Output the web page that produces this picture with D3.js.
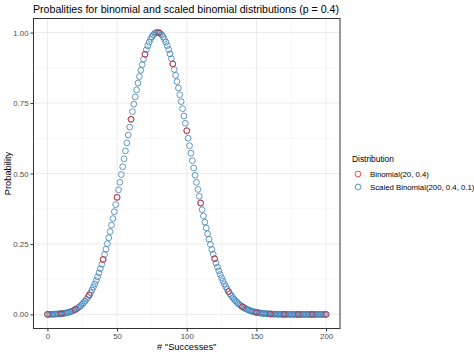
<!DOCTYPE html>
<html><head><meta charset="utf-8">
<script src="https://cdn.jsdelivr.net/npm/d3@7"></script>
<style>body{margin:0;background:#fff}svg{display:block;font-family:"Liberation Sans",Arial,sans-serif}</style>
</head><body><svg id="c" width="474" height="355"></svg>
<script>
const title = "Probalities for binomial and scaled binomial distributions (p = 0.4)";
const seriesNames = ["Binomial(20, 0.4)", "Scaled Binomial(200, 0.4, 0.1)"];
const seriesColors = ["#E41A1C", "#377EB8"];
const xTicks = [0, 50, 100, 150, 200];
const yTicks = [0, 0.25, 0.5, 0.75, 1];
const yTickLabels = ["0.00", "0.25", "0.50", "0.75", "1.00"];
// Binomial(20, 0.4) at successes 0,10,...,200
const binomX = [0,10,20,30,40,50,60,70,80,90,100,110,120,130,140,150,160,170,180,190,200];
const binomY = [0.0002,0.0027,0.0172,0.0687,0.1947,0.4154,0.6923,0.9231,1.0000,0.8889,0.6519,0.3951,0.1975,0.0810,0.0270,0.0072,0.0015,0.0002,0.0000,0.0000,0.0000];
// Scaled binomial at successes 0..200
const scaledY = [
0.0002,0.0003,0.0004,0.0005,0.0007,0.0008,0.0011,0.0014,0.0017,0.0022,
0.0027,0.0033,0.0041,0.0050,0.0061,0.0073,0.0088,0.0104,0.0124,0.0146,
0.0172,0.0201,0.0234,0.0271,0.0314,0.0361,0.0413,0.0472,0.0537,0.0608,
0.0687,0.0774,0.0868,0.0971,0.1082,0.1202,0.1332,0.1471,0.1620,0.1778,
0.1947,0.2126,0.2314,0.2513,0.2721,0.2939,0.3166,0.3401,0.3644,0.3896,
0.4154,0.4418,0.4688,0.4963,0.5241,0.5521,0.5803,0.6086,0.6367,0.6647,
0.6923,0.7195,0.7461,0.7720,0.7970,0.8211,0.8441,0.8659,0.8864,0.9055,
0.9231,0.9390,0.9533,0.9658,0.9765,0.9853,0.9922,0.9971,1.0001,1.0010,
1.0000,0.9970,0.9921,0.9852,0.9765,0.9660,0.9537,0.9398,0.9243,0.9073,
0.8889,0.8692,0.8483,0.8263,0.8034,0.7796,0.7550,0.7299,0.7042,0.6782,
0.6519,0.6254,0.5988,0.5723,0.5459,0.5197,0.4939,0.4684,0.4434,0.4189,
0.3951,0.3718,0.3493,0.3275,0.3065,0.2862,0.2668,0.2482,0.2305,0.2136,
0.1975,0.1823,0.1680,0.1544,0.1417,0.1298,0.1186,0.1081,0.0984,0.0894,
0.0810,0.0733,0.0662,0.0596,0.0536,0.0481,0.0430,0.0384,0.0342,0.0304,
0.0270,0.0239,0.0211,0.0186,0.0164,0.0144,0.0126,0.0110,0.0096,0.0083,
0.0072,0.0062,0.0054,0.0046,0.0040,0.0034,0.0029,0.0025,0.0021,0.0018,
0.0015,0.0013,0.0011,0.0009,0.0007,0.0006,0.0005,0.0004,0.0004,0.0003,
0.0002,0.0002,0.0002,0.0001,0.0001,0.0001,0.0001,0.0001,0.0000,0.0000,
0.0000,0.0000,0.0000,0.0000,0.0000,0.0000,0.0000,0.0000,0.0000,0.0000,
0.0000,0.0000,0.0000,0.0000,0.0000,0.0000,0.0000,0.0000,0.0000,0.0000,
0.0000];
const scaledX = scaledY.map((d, i) => i);

const svg = d3.select("#c");
const P = {l: 33.5, r: 340, t: 18.5, b: 328.5};
const x = d3.scaleLinear().domain([-10, 210]).range([P.l, P.r]);
const y = d3.scaleLinear().domain([-0.05, 1.05]).range([P.b, P.t]);

function fit(sel, size, width) {
  sel.style("font-size", size + "px");
  const w = sel.node().getComputedTextLength();
  if (w > 0) sel.style("font-size", (size * width / w).toFixed(2) + "px");
  return sel;
}

// grid
const g = svg.append("g");
const minorX = [25, 75, 125, 175], minorY = [0.125, 0.375, 0.625, 0.875];
g.selectAll(".mx").data(minorX).enter().append("line").attr("x1", d => x(d)).attr("x2", d => x(d)).attr("y1", P.t).attr("y2", P.b).attr("stroke", "#f2f2f2").attr("stroke-width", 0.6);
g.selectAll(".my").data(minorY).enter().append("line").attr("y1", d => y(d)).attr("y2", d => y(d)).attr("x1", P.l).attr("x2", P.r).attr("stroke", "#f2f2f2").attr("stroke-width", 0.6);
g.selectAll(".Mx").data(xTicks).enter().append("line").attr("x1", d => x(d)).attr("x2", d => x(d)).attr("y1", P.t).attr("y2", P.b).attr("stroke", "#ebebeb").attr("stroke-width", 1);
g.selectAll(".My").data(yTicks).enter().append("line").attr("y1", d => y(d)).attr("y2", d => y(d)).attr("x1", P.l).attr("x2", P.r).attr("stroke", "#ebebeb").attr("stroke-width", 1);

// points
svg.append("g").selectAll("circle").data(scaledY).enter().append("circle")
  .attr("cx", (d, i) => x(scaledX[i])).attr("cy", d => y(d)).attr("r", 2.9)
  .attr("fill", "none").attr("stroke", seriesColors[1]).attr("stroke-width", 0.8);
svg.append("g").selectAll("circle").data(binomY).enter().append("circle")
  .attr("cx", (d, i) => x(binomX[i])).attr("cy", d => y(d)).attr("r", 2.9)
  .attr("fill", "none").attr("stroke", seriesColors[0]).attr("stroke-width", 0.8);

// border
svg.append("rect").attr("x", P.l).attr("y", P.t).attr("width", P.r - P.l).attr("height", P.b - P.t)
  .attr("fill", "none").attr("stroke", "#333").attr("stroke-width", 1);

// axes
const xa = svg.append("g").attr("transform", `translate(0,${P.b})`)
  .call(d3.axisBottom(x).tickValues(xTicks).tickSize(3).tickPadding(1.5).tickFormat(d3.format("d")));
const ya = svg.append("g").attr("transform", `translate(${P.l},0)`)
  .call(d3.axisLeft(y).tickValues(yTicks).tickSize(3).tickPadding(2).tickFormat((d, i) => yTickLabels[i]));
[xa, ya].forEach(a => {
  a.select(".domain").remove();
  a.selectAll(".tick line").attr("stroke", "#333");
  a.selectAll(".tick text").attr("fill", "#4d4d4d").style("font-size", "7.8px").style("font-family", "Liberation Sans, Arial, sans-serif");
});

// titles
fit(svg.append("text").attr("x", 33).attr("y", 12.5).text(title).attr("fill", "#000"), 11, 306);
svg.append("text").attr("x", (P.l + P.r) / 2).attr("y", 350).attr("text-anchor", "middle").text('# "Successes"').style("font-size", "9.3px");
svg.append("text").attr("transform", `translate(11,${(P.t + P.b) / 2}) rotate(-90)`).attr("text-anchor", "middle").text("Probability").style("font-size", "9.3px");

// legend
const lg = svg.append("g").attr("transform", "translate(352,0)");
fit(lg.append("text").attr("x", 0).attr("y", 161.5).text("Distribution"), 9.3, 42);
seriesNames.forEach((n, i) => {
  const cy = 174 + i * 13;
  lg.append("circle").attr("cx", 6).attr("cy", cy).attr("r", 2.9).attr("fill", "none").attr("stroke", seriesColors[i]).attr("stroke-width", 0.8);
  lg.append("text").attr("x", 18).attr("y", cy + 2.8).text(n).style("font-size", "7.8px");
});
</script></body></html>
